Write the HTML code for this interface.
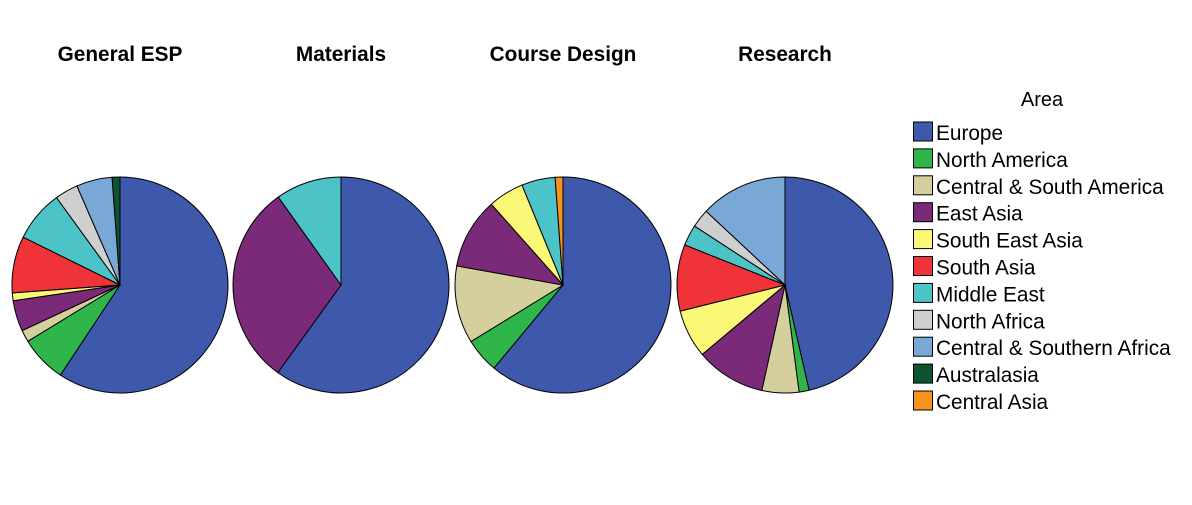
<!DOCTYPE html>
<html><head><meta charset="utf-8"><style>
body{margin:0;background:#fff;}
svg{display:block;font-family:"Liberation Sans",Arial,sans-serif;}
</style></head><body>
<svg id="s" width="1192" height="505" viewBox="0 0 1192 505">
<g font-weight="bold" font-size="20.8" text-anchor="middle" fill="#000">
<text x="120" y="61">General ESP</text>
<text x="341" y="61">Materials</text>
<text x="563" y="61">Course Design</text>
<text x="785" y="61">Research</text>
</g>
<text x="1042" y="106" font-size="20" text-anchor="middle">Area</text>
<g id="leg" font-size="20.8"></g>
<g id="pies" stroke="#000" stroke-width="1"></g>
</svg>
<script>
var C={eu:"#3e58ac",na:"#30b54b",csa:"#d4cf9c",ea:"#7b2a7a",sea:"#fbf877",sa:"#ef3339",me:"#4bc3c7",naf:"#cfcfcf",csaf:"#7aa8d6",au:"#0c5532",ca:"#f7941d"};
var names=[["eu","Europe"],["na","North America"],["csa","Central & South America"],["ea","East Asia"],["sea","South East Asia"],["sa","South Asia"],["me","Middle East"],["naf","North Africa"],["csaf","Central & Southern Africa"],["au","Australasia"],["ca","Central Asia"]];
var leg=document.getElementById("leg"),h="";
names.forEach(function(n,i){var y=122+i*26.9;h+='<rect x="913.5" y="'+y+'" width="19" height="19" fill="'+C[n[0]]+'" stroke="#000"/><text x="936" y="'+(y+18)+'">'+n[1].replace("&","&amp;")+'</text>';});
leg.innerHTML=h;
var pies=[[120,[["eu",213.5],["na",238.6],["csa",245],["ea",261.6],["sea",265.8],["sa",296.3],["me",324],["naf",336.5],["csaf",355.8],["au",360]]],
[341,[["eu",215.8],["ea",324.5],["me",360]]],
[563,[["eu",219.7],["na",238.4],["csa",280.2],["ea",318.4],["sea",337.7],["me",355.8],["ca",360]]],
[785,[["eu",167.1],["na",172.5],["csa",192.4],["ea",230],["sea",256],["sa",291.8],["me",303.1],["naf",313.1],["csaf",360]]]];
var r=108,cy=285,p="";
function pt(cx,a){a=a*Math.PI/180;return (cx+r*Math.sin(a)).toFixed(2)+","+(cy-r*Math.cos(a)).toFixed(2);}
pies.forEach(function(pp){var cx=pp[0],s=0;pp[1].forEach(function(sl){var e=sl[1];var lg=(e-s)>180?1:0;
p+='<path fill="'+C[sl[0]]+'" d="M'+cx+','+cy+' L'+pt(cx,s)+' A'+r+','+r+' 0 '+lg+' 1 '+pt(cx,e)+' Z"/>';s=e;});});
document.getElementById("pies").innerHTML=p;
</script>
</body></html>
